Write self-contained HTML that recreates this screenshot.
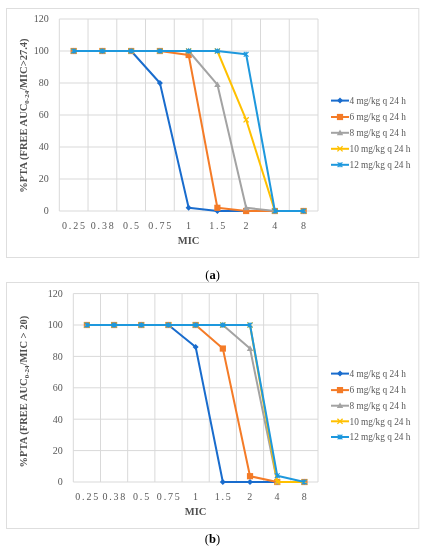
<!DOCTYPE html>
<html><head><meta charset="utf-8"><title>Figure</title>
<style>
html,body{margin:0;padding:0;background:#fff;}
body{width:425px;height:550px;overflow:hidden;}
svg{display:block;filter:blur(0.35px);}
text{font-family:'Liberation Serif', 'DejaVu Serif', serif;}
.tk{font-size:10px;fill:#595959;}
.xl{font-size:10px;fill:#595959;letter-spacing:1.8px;}
.ax{font-size:10.5px;font-weight:bold;fill:#505050;}
.sub{font-size:7px;}
.lg{font-size:9.3px;fill:#595959;}
.cap{font-size:12.5px;fill:#000;}
</style></head>
<body>
<svg width="425" height="550" viewBox="0 0 425 550">
<rect width="425" height="550" fill="#fff"/>
<rect x="6.5" y="8.5" width="412.30" height="249.00" fill="#fff" stroke="#DEDEDE" stroke-width="1"/>
<path d="M59.30 19.00H318.00M59.30 51.00H318.00M59.30 83.00H318.00M59.30 115.00H318.00M59.30 147.00H318.00M59.30 179.00H318.00M59.30 211.00H318.00M59.30 19.00V211.00M88.04 19.00V211.00M116.79 19.00V211.00M145.53 19.00V211.00M174.28 19.00V211.00M203.02 19.00V211.00M231.77 19.00V211.00M260.51 19.00V211.00M289.26 19.00V211.00M318.00 19.00V211.00" stroke="#D9D9D9" stroke-width="1" fill="none"/>
<text x="48.80" y="22.40" text-anchor="end" class="tk">120</text>
<text x="48.80" y="54.40" text-anchor="end" class="tk">100</text>
<text x="48.80" y="86.40" text-anchor="end" class="tk">80</text>
<text x="48.80" y="118.40" text-anchor="end" class="tk">60</text>
<text x="48.80" y="150.40" text-anchor="end" class="tk">40</text>
<text x="48.80" y="182.40" text-anchor="end" class="tk">20</text>
<text x="48.80" y="214.40" text-anchor="end" class="tk">0</text>
<text x="74.42" y="228.50" text-anchor="middle" class="xl">0.25</text>
<text x="103.17" y="228.50" text-anchor="middle" class="xl">0.38</text>
<text x="131.91" y="228.50" text-anchor="middle" class="xl">0.5</text>
<text x="160.66" y="228.50" text-anchor="middle" class="xl">0.75</text>
<text x="189.40" y="228.50" text-anchor="middle" class="xl">1</text>
<text x="218.14" y="228.50" text-anchor="middle" class="xl">1.5</text>
<text x="246.89" y="228.50" text-anchor="middle" class="xl">2</text>
<text x="275.63" y="228.50" text-anchor="middle" class="xl">4</text>
<text x="304.38" y="228.50" text-anchor="middle" class="xl">8</text>
<text x="188.65" y="244.30" text-anchor="middle" class="ax">MIC</text>
<text transform="translate(26.80,115.60) rotate(-90)" text-anchor="middle" class="ax">%PTA (FREE AUC<tspan class="sub" dy="1.8">0-24</tspan><tspan dy="-1.8">/MIC&gt;27.4)</tspan></text>
<path d="M73.67 51.00L102.42 51.00L131.16 51.00L159.91 83.00L188.65 207.80L217.39 211.00L246.14 211.00L274.88 211.00L303.63 211.00" stroke="#196CCD" stroke-width="2" fill="none" stroke-linejoin="round"/>
<path d="M73.67 48.00L76.67 51.00L73.67 54.00L70.67 51.00Z" fill="#196CCD"/>
<path d="M102.42 48.00L105.42 51.00L102.42 54.00L99.42 51.00Z" fill="#196CCD"/>
<path d="M131.16 48.00L134.16 51.00L131.16 54.00L128.16 51.00Z" fill="#196CCD"/>
<path d="M159.91 80.00L162.91 83.00L159.91 86.00L156.91 83.00Z" fill="#196CCD"/>
<path d="M188.65 204.80L191.65 207.80L188.65 210.80L185.65 207.80Z" fill="#196CCD"/>
<path d="M217.39 208.00L220.39 211.00L217.39 214.00L214.39 211.00Z" fill="#196CCD"/>
<path d="M246.14 208.00L249.14 211.00L246.14 214.00L243.14 211.00Z" fill="#196CCD"/>
<path d="M274.88 208.00L277.88 211.00L274.88 214.00L271.88 211.00Z" fill="#196CCD"/>
<path d="M303.63 208.00L306.63 211.00L303.63 214.00L300.63 211.00Z" fill="#196CCD"/>
<path d="M73.67 51.00L102.42 51.00L131.16 51.00L159.91 51.00L188.65 55.00L217.39 207.80L246.14 211.00L274.88 211.00L303.63 211.00" stroke="#F47B27" stroke-width="2" fill="none" stroke-linejoin="round"/>
<rect x="70.57" y="47.90" width="6.20" height="6.20" fill="#F47B27"/>
<rect x="99.32" y="47.90" width="6.20" height="6.20" fill="#F47B27"/>
<rect x="128.06" y="47.90" width="6.20" height="6.20" fill="#F47B27"/>
<rect x="156.81" y="47.90" width="6.20" height="6.20" fill="#F47B27"/>
<rect x="185.55" y="51.90" width="6.20" height="6.20" fill="#F47B27"/>
<rect x="214.29" y="204.70" width="6.20" height="6.20" fill="#F47B27"/>
<rect x="243.04" y="207.90" width="6.20" height="6.20" fill="#F47B27"/>
<rect x="271.78" y="207.90" width="6.20" height="6.20" fill="#F47B27"/>
<rect x="300.53" y="207.90" width="6.20" height="6.20" fill="#F47B27"/>
<path d="M73.67 51.00L102.42 51.00L131.16 51.00L159.91 51.00L188.65 51.00L217.39 84.60L246.14 207.80L274.88 211.00L303.63 211.00" stroke="#A3A3A3" stroke-width="2" fill="none" stroke-linejoin="round"/>
<path d="M73.67 47.80L76.87 53.40L70.47 53.40Z" fill="#A3A3A3"/>
<path d="M102.42 47.80L105.62 53.40L99.22 53.40Z" fill="#A3A3A3"/>
<path d="M131.16 47.80L134.36 53.40L127.96 53.40Z" fill="#A3A3A3"/>
<path d="M159.91 47.80L163.11 53.40L156.71 53.40Z" fill="#A3A3A3"/>
<path d="M188.65 47.80L191.85 53.40L185.45 53.40Z" fill="#A3A3A3"/>
<path d="M217.39 81.40L220.59 87.00L214.19 87.00Z" fill="#A3A3A3"/>
<path d="M246.14 204.60L249.34 210.20L242.94 210.20Z" fill="#A3A3A3"/>
<path d="M274.88 207.80L278.08 213.40L271.68 213.40Z" fill="#A3A3A3"/>
<path d="M303.63 207.80L306.83 213.40L300.43 213.40Z" fill="#A3A3A3"/>
<path d="M73.67 51.00L102.42 51.00L131.16 51.00L159.91 51.00L188.65 51.00L217.39 51.00L246.14 119.80L274.88 211.00L303.63 211.00" stroke="#FFC000" stroke-width="2" fill="none" stroke-linejoin="round"/>
<path d="M71.07 48.40L76.27 53.60M76.27 48.40L71.07 53.60" stroke="#FFC000" stroke-width="1.3" fill="none"/>
<path d="M99.82 48.40L105.02 53.60M105.02 48.40L99.82 53.60" stroke="#FFC000" stroke-width="1.3" fill="none"/>
<path d="M128.56 48.40L133.76 53.60M133.76 48.40L128.56 53.60" stroke="#FFC000" stroke-width="1.3" fill="none"/>
<path d="M157.31 48.40L162.51 53.60M162.51 48.40L157.31 53.60" stroke="#FFC000" stroke-width="1.3" fill="none"/>
<path d="M186.05 48.40L191.25 53.60M191.25 48.40L186.05 53.60" stroke="#FFC000" stroke-width="1.3" fill="none"/>
<path d="M214.79 48.40L219.99 53.60M219.99 48.40L214.79 53.60" stroke="#FFC000" stroke-width="1.3" fill="none"/>
<path d="M243.54 117.20L248.74 122.40M248.74 117.20L243.54 122.40" stroke="#FFC000" stroke-width="1.3" fill="none"/>
<path d="M272.28 208.40L277.48 213.60M277.48 208.40L272.28 213.60" stroke="#FFC000" stroke-width="1.3" fill="none"/>
<path d="M301.03 208.40L306.23 213.60M306.23 208.40L301.03 213.60" stroke="#FFC000" stroke-width="1.3" fill="none"/>
<path d="M73.67 51.00L102.42 51.00L131.16 51.00L159.91 51.00L188.65 51.00L217.39 51.00L246.14 54.20L274.88 211.00L303.63 211.00" stroke="#1E98DD" stroke-width="2" fill="none" stroke-linejoin="round"/>
<path d="M71.27 48.60L76.07 53.40M76.07 48.60L71.27 53.40M73.67 48.60L73.67 53.40" stroke="#1E98DD" stroke-width="1.2" fill="none"/>
<path d="M100.02 48.60L104.82 53.40M104.82 48.60L100.02 53.40M102.42 48.60L102.42 53.40" stroke="#1E98DD" stroke-width="1.2" fill="none"/>
<path d="M128.76 48.60L133.56 53.40M133.56 48.60L128.76 53.40M131.16 48.60L131.16 53.40" stroke="#1E98DD" stroke-width="1.2" fill="none"/>
<path d="M157.51 48.60L162.31 53.40M162.31 48.60L157.51 53.40M159.91 48.60L159.91 53.40" stroke="#1E98DD" stroke-width="1.2" fill="none"/>
<path d="M186.25 48.60L191.05 53.40M191.05 48.60L186.25 53.40M188.65 48.60L188.65 53.40" stroke="#1E98DD" stroke-width="1.2" fill="none"/>
<path d="M214.99 48.60L219.79 53.40M219.79 48.60L214.99 53.40M217.39 48.60L217.39 53.40" stroke="#1E98DD" stroke-width="1.2" fill="none"/>
<path d="M243.74 51.80L248.54 56.60M248.54 51.80L243.74 56.60M246.14 51.80L246.14 56.60" stroke="#1E98DD" stroke-width="1.2" fill="none"/>
<path d="M272.48 208.60L277.28 213.40M277.28 208.60L272.48 213.40M274.88 208.60L274.88 213.40" stroke="#1E98DD" stroke-width="1.2" fill="none"/>
<path d="M301.23 208.60L306.03 213.40M306.03 208.60L301.23 213.40M303.63 208.60L303.63 213.40" stroke="#1E98DD" stroke-width="1.2" fill="none"/>
<path d="M331.00 100.60H349.00" stroke="#196CCD" stroke-width="2"/>
<path d="M340.00 97.60L343.00 100.60L340.00 103.60L337.00 100.60Z" fill="#196CCD"/>
<text x="349.50" y="103.80" class="lg">4 mg/kg q 24 h</text>
<path d="M331.00 117.00H349.00" stroke="#F47B27" stroke-width="2"/>
<rect x="336.90" y="113.90" width="6.20" height="6.20" fill="#F47B27"/>
<text x="349.50" y="120.20" class="lg">6 mg/kg q 24 h</text>
<path d="M331.00 132.80H349.00" stroke="#A3A3A3" stroke-width="2"/>
<path d="M340.00 129.60L343.20 135.20L336.80 135.20Z" fill="#A3A3A3"/>
<text x="349.50" y="136.00" class="lg">8 mg/kg q 24 h</text>
<path d="M331.00 148.80H349.00" stroke="#FFC000" stroke-width="2"/>
<path d="M337.40 146.20L342.60 151.40M342.60 146.20L337.40 151.40" stroke="#FFC000" stroke-width="1.3" fill="none"/>
<text x="349.50" y="152.00" class="lg">10 mg/kg q 24 h</text>
<path d="M331.00 164.80H349.00" stroke="#1E98DD" stroke-width="2"/>
<path d="M337.60 162.40L342.40 167.20M342.40 162.40L337.60 167.20M340.00 162.40L340.00 167.20" stroke="#1E98DD" stroke-width="1.2" fill="none"/>
<text x="349.50" y="168.00" class="lg">12 mg/kg q 24 h</text>
<text x="212.5" y="279.20" text-anchor="middle" class="cap">(<tspan font-weight="bold">a</tspan>)</text>
<rect x="6.5" y="282.5" width="412.30" height="246.00" fill="#fff" stroke="#DEDEDE" stroke-width="1"/>
<path d="M73.30 293.60H318.00M73.30 325.00H318.00M73.30 356.40H318.00M73.30 387.80H318.00M73.30 419.20H318.00M73.30 450.60H318.00M73.30 482.00H318.00M73.30 293.60V482.00M100.49 293.60V482.00M127.68 293.60V482.00M154.87 293.60V482.00M182.06 293.60V482.00M209.24 293.60V482.00M236.43 293.60V482.00M263.62 293.60V482.00M290.81 293.60V482.00M318.00 293.60V482.00" stroke="#D9D9D9" stroke-width="1" fill="none"/>
<text x="62.80" y="297.00" text-anchor="end" class="tk">120</text>
<text x="62.80" y="328.40" text-anchor="end" class="tk">100</text>
<text x="62.80" y="359.80" text-anchor="end" class="tk">80</text>
<text x="62.80" y="391.20" text-anchor="end" class="tk">60</text>
<text x="62.80" y="422.60" text-anchor="end" class="tk">40</text>
<text x="62.80" y="454.00" text-anchor="end" class="tk">20</text>
<text x="62.80" y="485.40" text-anchor="end" class="tk">0</text>
<text x="87.64" y="500.00" text-anchor="middle" class="xl">0.25</text>
<text x="114.83" y="500.00" text-anchor="middle" class="xl">0.38</text>
<text x="142.02" y="500.00" text-anchor="middle" class="xl">0.5</text>
<text x="169.21" y="500.00" text-anchor="middle" class="xl">0.75</text>
<text x="196.40" y="500.00" text-anchor="middle" class="xl">1</text>
<text x="223.59" y="500.00" text-anchor="middle" class="xl">1.5</text>
<text x="250.78" y="500.00" text-anchor="middle" class="xl">2</text>
<text x="277.97" y="500.00" text-anchor="middle" class="xl">4</text>
<text x="305.16" y="500.00" text-anchor="middle" class="xl">8</text>
<text x="195.65" y="515.10" text-anchor="middle" class="ax">MIC</text>
<text transform="translate(27.00,391.60) rotate(-90)" text-anchor="middle" class="ax">%PTA (FREE AUC<tspan class="sub" dy="1.8">0-24</tspan><tspan dy="-1.8">/MIC &gt; 20)</tspan></text>
<path d="M86.89 325.00L114.08 325.00L141.27 325.00L168.46 325.00L195.65 346.98L222.84 482.00L250.03 482.00L277.22 482.00L304.41 482.00" stroke="#196CCD" stroke-width="2" fill="none" stroke-linejoin="round"/>
<path d="M86.89 322.00L89.89 325.00L86.89 328.00L83.89 325.00Z" fill="#196CCD"/>
<path d="M114.08 322.00L117.08 325.00L114.08 328.00L111.08 325.00Z" fill="#196CCD"/>
<path d="M141.27 322.00L144.27 325.00L141.27 328.00L138.27 325.00Z" fill="#196CCD"/>
<path d="M168.46 322.00L171.46 325.00L168.46 328.00L165.46 325.00Z" fill="#196CCD"/>
<path d="M195.65 343.98L198.65 346.98L195.65 349.98L192.65 346.98Z" fill="#196CCD"/>
<path d="M222.84 479.00L225.84 482.00L222.84 485.00L219.84 482.00Z" fill="#196CCD"/>
<path d="M250.03 479.00L253.03 482.00L250.03 485.00L247.03 482.00Z" fill="#196CCD"/>
<path d="M277.22 479.00L280.22 482.00L277.22 485.00L274.22 482.00Z" fill="#196CCD"/>
<path d="M304.41 479.00L307.41 482.00L304.41 485.00L301.41 482.00Z" fill="#196CCD"/>
<path d="M86.89 325.00L114.08 325.00L141.27 325.00L168.46 325.00L195.65 325.00L222.84 348.55L250.03 476.19L277.22 482.00L304.41 482.00" stroke="#F47B27" stroke-width="2" fill="none" stroke-linejoin="round"/>
<rect x="83.79" y="321.90" width="6.20" height="6.20" fill="#F47B27"/>
<rect x="110.98" y="321.90" width="6.20" height="6.20" fill="#F47B27"/>
<rect x="138.17" y="321.90" width="6.20" height="6.20" fill="#F47B27"/>
<rect x="165.36" y="321.90" width="6.20" height="6.20" fill="#F47B27"/>
<rect x="192.55" y="321.90" width="6.20" height="6.20" fill="#F47B27"/>
<rect x="219.74" y="345.45" width="6.20" height="6.20" fill="#F47B27"/>
<rect x="246.93" y="473.09" width="6.20" height="6.20" fill="#F47B27"/>
<rect x="274.12" y="478.90" width="6.20" height="6.20" fill="#F47B27"/>
<rect x="301.31" y="478.90" width="6.20" height="6.20" fill="#F47B27"/>
<path d="M86.89 325.00L114.08 325.00L141.27 325.00L168.46 325.00L195.65 325.00L222.84 325.00L250.03 348.55L277.22 482.00L304.41 482.00" stroke="#A3A3A3" stroke-width="2" fill="none" stroke-linejoin="round"/>
<path d="M86.89 321.80L90.09 327.40L83.69 327.40Z" fill="#A3A3A3"/>
<path d="M114.08 321.80L117.28 327.40L110.88 327.40Z" fill="#A3A3A3"/>
<path d="M141.27 321.80L144.47 327.40L138.07 327.40Z" fill="#A3A3A3"/>
<path d="M168.46 321.80L171.66 327.40L165.26 327.40Z" fill="#A3A3A3"/>
<path d="M195.65 321.80L198.85 327.40L192.45 327.40Z" fill="#A3A3A3"/>
<path d="M222.84 321.80L226.04 327.40L219.64 327.40Z" fill="#A3A3A3"/>
<path d="M250.03 345.35L253.23 350.95L246.83 350.95Z" fill="#A3A3A3"/>
<path d="M277.22 478.80L280.42 484.40L274.02 484.40Z" fill="#A3A3A3"/>
<path d="M304.41 478.80L307.61 484.40L301.21 484.40Z" fill="#A3A3A3"/>
<path d="M86.89 325.00L114.08 325.00L141.27 325.00L168.46 325.00L195.65 325.00L222.84 325.00L250.03 325.00L277.22 482.00L304.41 482.00" stroke="#FFC000" stroke-width="2" fill="none" stroke-linejoin="round"/>
<path d="M84.29 322.40L89.49 327.60M89.49 322.40L84.29 327.60" stroke="#FFC000" stroke-width="1.3" fill="none"/>
<path d="M111.48 322.40L116.68 327.60M116.68 322.40L111.48 327.60" stroke="#FFC000" stroke-width="1.3" fill="none"/>
<path d="M138.67 322.40L143.87 327.60M143.87 322.40L138.67 327.60" stroke="#FFC000" stroke-width="1.3" fill="none"/>
<path d="M165.86 322.40L171.06 327.60M171.06 322.40L165.86 327.60" stroke="#FFC000" stroke-width="1.3" fill="none"/>
<path d="M193.05 322.40L198.25 327.60M198.25 322.40L193.05 327.60" stroke="#FFC000" stroke-width="1.3" fill="none"/>
<path d="M220.24 322.40L225.44 327.60M225.44 322.40L220.24 327.60" stroke="#FFC000" stroke-width="1.3" fill="none"/>
<path d="M247.43 322.40L252.63 327.60M252.63 322.40L247.43 327.60" stroke="#FFC000" stroke-width="1.3" fill="none"/>
<path d="M274.62 479.40L279.82 484.60M279.82 479.40L274.62 484.60" stroke="#FFC000" stroke-width="1.3" fill="none"/>
<path d="M301.81 479.40L307.01 484.60M307.01 479.40L301.81 484.60" stroke="#FFC000" stroke-width="1.3" fill="none"/>
<path d="M86.89 325.00L114.08 325.00L141.27 325.00L168.46 325.00L195.65 325.00L222.84 325.00L250.03 325.00L277.22 475.72L304.41 482.00" stroke="#1E98DD" stroke-width="2" fill="none" stroke-linejoin="round"/>
<path d="M84.49 322.60L89.29 327.40M89.29 322.60L84.49 327.40M86.89 322.60L86.89 327.40" stroke="#1E98DD" stroke-width="1.2" fill="none"/>
<path d="M111.68 322.60L116.48 327.40M116.48 322.60L111.68 327.40M114.08 322.60L114.08 327.40" stroke="#1E98DD" stroke-width="1.2" fill="none"/>
<path d="M138.87 322.60L143.67 327.40M143.67 322.60L138.87 327.40M141.27 322.60L141.27 327.40" stroke="#1E98DD" stroke-width="1.2" fill="none"/>
<path d="M166.06 322.60L170.86 327.40M170.86 322.60L166.06 327.40M168.46 322.60L168.46 327.40" stroke="#1E98DD" stroke-width="1.2" fill="none"/>
<path d="M193.25 322.60L198.05 327.40M198.05 322.60L193.25 327.40M195.65 322.60L195.65 327.40" stroke="#1E98DD" stroke-width="1.2" fill="none"/>
<path d="M220.44 322.60L225.24 327.40M225.24 322.60L220.44 327.40M222.84 322.60L222.84 327.40" stroke="#1E98DD" stroke-width="1.2" fill="none"/>
<path d="M247.63 322.60L252.43 327.40M252.43 322.60L247.63 327.40M250.03 322.60L250.03 327.40" stroke="#1E98DD" stroke-width="1.2" fill="none"/>
<path d="M274.82 473.32L279.62 478.12M279.62 473.32L274.82 478.12M277.22 473.32L277.22 478.12" stroke="#1E98DD" stroke-width="1.2" fill="none"/>
<path d="M302.01 479.60L306.81 484.40M306.81 479.60L302.01 484.40M304.41 479.60L304.41 484.40" stroke="#1E98DD" stroke-width="1.2" fill="none"/>
<path d="M331.00 373.60H349.00" stroke="#196CCD" stroke-width="2"/>
<path d="M340.00 370.60L343.00 373.60L340.00 376.60L337.00 373.60Z" fill="#196CCD"/>
<text x="349.50" y="376.80" class="lg">4 mg/kg q 24 h</text>
<path d="M331.00 390.10H349.00" stroke="#F47B27" stroke-width="2"/>
<rect x="336.90" y="387.00" width="6.20" height="6.20" fill="#F47B27"/>
<text x="349.50" y="393.30" class="lg">6 mg/kg q 24 h</text>
<path d="M331.00 405.70H349.00" stroke="#A3A3A3" stroke-width="2"/>
<path d="M340.00 402.50L343.20 408.10L336.80 408.10Z" fill="#A3A3A3"/>
<text x="349.50" y="408.90" class="lg">8 mg/kg q 24 h</text>
<path d="M331.00 421.30H349.00" stroke="#FFC000" stroke-width="2"/>
<path d="M337.40 418.70L342.60 423.90M342.60 418.70L337.40 423.90" stroke="#FFC000" stroke-width="1.3" fill="none"/>
<text x="349.50" y="424.50" class="lg">10 mg/kg q 24 h</text>
<path d="M331.00 437.00H349.00" stroke="#1E98DD" stroke-width="2"/>
<path d="M337.60 434.60L342.40 439.40M342.40 434.60L337.60 439.40M340.00 434.60L340.00 439.40" stroke="#1E98DD" stroke-width="1.2" fill="none"/>
<text x="349.50" y="440.20" class="lg">12 mg/kg q 24 h</text>
<text x="212.5" y="542.80" text-anchor="middle" class="cap">(<tspan font-weight="bold">b</tspan>)</text>
</svg>
</body></html>
